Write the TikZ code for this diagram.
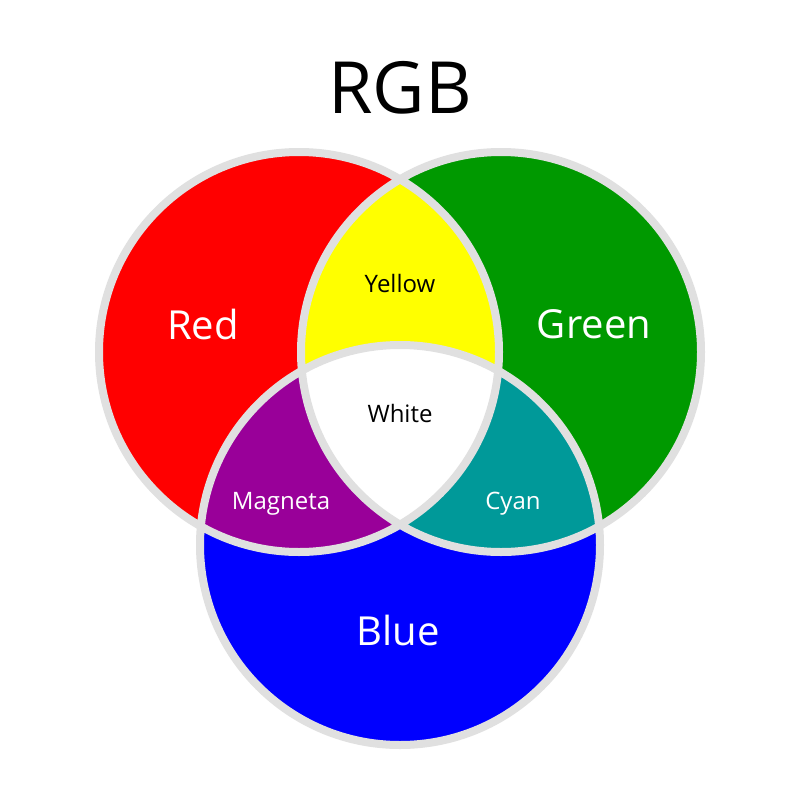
\documentclass[tikz,border=0pt]{standalone}
\usepackage{fontspec}
\setmainfont{Open Sans}
\definecolor{cR}{HTML}{FF0000}
\definecolor{cG}{HTML}{009900}
\definecolor{cB}{HTML}{0000FF}
\definecolor{cY}{HTML}{FFFF00}
\definecolor{cM}{HTML}{990099}
\definecolor{cC}{HTML}{009999}
\definecolor{rim}{HTML}{E0E0E0}
\begin{document}
\begin{tikzpicture}[x=1pt,y=-1pt,
  big/.style={font=\fontsize{40}{44}\selectfont,text=white},
  small/.style={font=\fontsize{24}{28}\selectfont}]
\useasboundingbox (0,0) rectangle (800,800);
\fill[white] (0,0) rectangle (800,800);
\def\R{200}
\coordinate (r) at (299,352);
\coordinate (g) at (501,352);
\coordinate (b) at (400,545);
\fill[cR] (r) circle (\R);
\fill[cG] (g) circle (\R);
\fill[cB] (b) circle (\R);
\begin{scope}\clip (r) circle (\R); \fill[cY] (g) circle (\R);\end{scope}
\begin{scope}\clip (r) circle (\R); \fill[cM] (b) circle (\R);\end{scope}
\begin{scope}\clip (g) circle (\R); \fill[cC] (b) circle (\R);\end{scope}
\begin{scope}\clip (r) circle (\R); \clip (g) circle (\R); \fill[white] (b) circle (\R);\end{scope}
\draw[rim,line width=8pt] (r) circle (\R) (g) circle (\R) (b) circle (\R);
\node[font=\fontsize{72}{80}\selectfont] (t) at (400,88) {RGB};
\node[big] (red) at (203,324) {Red};
\node[big] (green) at (594,324) {Green};
\node[big] (blue) at (398,630) {Blue};
\node[small] (y) at (400,283) {Yellow};
\node[small] (w) at (400,413) {White};
\node[small,text=white] (m) at (281,504) {Magneta};
\node[small,text=white] (c) at (513,504) {Cyan};
\end{tikzpicture}
\end{document}
